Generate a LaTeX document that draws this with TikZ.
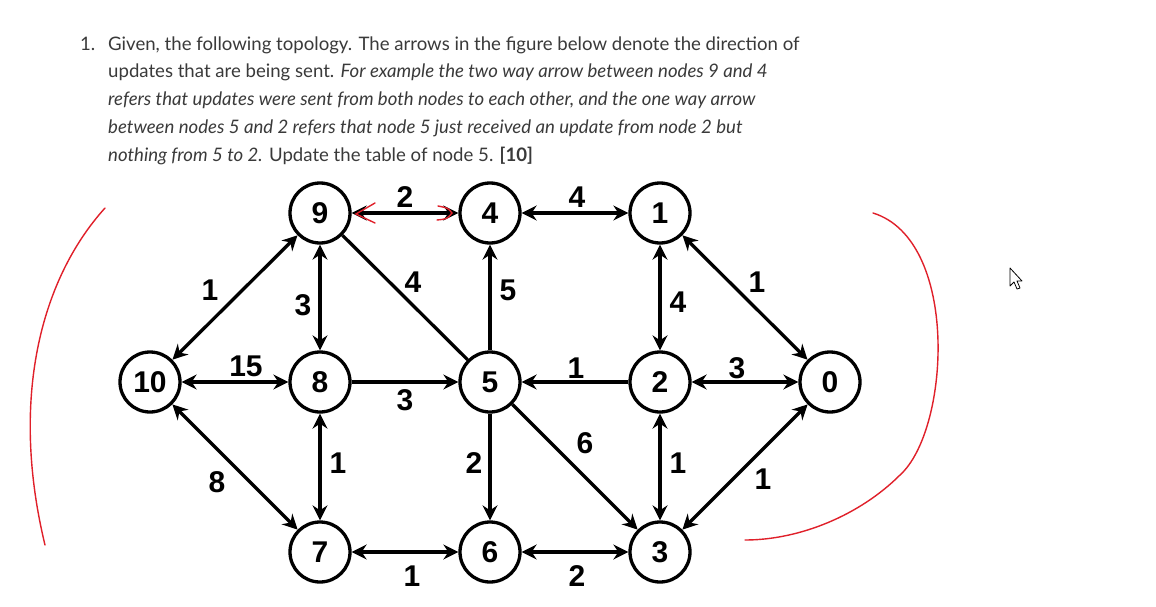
\documentclass[tikz,border=0pt]{standalone}
\usepackage{fontspec}
\setmainfont{Lato}
\newfontfamily\arialb{Liberation Sans}
\usetikzlibrary{arrows.meta}
\definecolor{txt}{HTML}{3A3A3A}
\definecolor{pen}{HTML}{E0202A}
\begin{document}
\begin{tikzpicture}[x=1pt,y=-1pt,
  nd/.style={circle,draw,line width=3.3pt,minimum size=60pt,inner sep=0pt,font=\arialb\bfseries\fontsize{30}{30}\selectfont},
  ed/.style={line width=3.3pt,{Stealth[length=15pt,width=15pt,inset=5pt]}-{Stealth[length=15pt,width=15pt,inset=5pt]}},
  one/.style={line width=3.3pt,-{Stealth[length=15pt,width=15pt,inset=5pt]}},
  pl/.style={line width=3.3pt},
  lb/.style={font=\arialb\bfseries\fontsize{30}{30}\selectfont,inner sep=0pt},
  tl/.style={anchor=base west,inner sep=0pt,text=txt,font=\fontsize{18.6}{20}\selectfont},
  red/.style={draw=pen,line width=1.4pt,line cap=round}]
\useasboundingbox (0,0) rectangle (1156,607);
\fill[white] (0,0) rectangle (1156,607);
% text
\node[tl] (n1) at (80,51) {1.};
\node[tl] (l1) at (108,51) {Given, the following topology. The arrows in the figure below denote the direction of};
\node[tl] (l2) at (108,78) {updates that are being sent. \textit{For example the two way arrow between nodes 9 and 4}};
\node[tl] (l3) at (108,106) {\textit{refers that updates were sent from both nodes to each other, and the one way arrow}};
\node[tl] (l4) at (108,133) {\textit{between nodes 5 and 2 refers that node 5 just received an update from node 2 but}};
\node[tl] (l5) at (108,161) {\textit{nothing from 5 to 2.} Update the table of node 5. \textbf{[10]}};
% nodes
\node[nd] (9) at (320,213) {9};
\node[nd] (4) at (490,213) {4};
\node[nd] (1) at (660,213) {1};
\node[nd] (10) at (150,382) {10};
\node[nd] (8) at (320,382) {8};
\node[nd] (5) at (490,382) {5};
\node[nd] (2) at (660,382) {2};
\node[nd] (0) at (830,382) {0};
\node[nd] (7) at (320,552) {7};
\node[nd] (6) at (490,552) {6};
\node[nd] (3) at (660,552) {3};
% edges
\draw[ed] (9) -- (4);
\draw[ed] (4) -- (1);
\draw[ed] (10) -- (9);
\draw[ed] (9) -- (8);
\draw[pl] (9) -- (5);
\draw[one] (5) -- (4);
\draw[ed] (1) -- (2);
\draw[ed] (1) -- (0);
\draw[ed] (10) -- (8);
\draw[one] (8) -- (5);
\draw[one] (2) -- (5);
\draw[ed] (2) -- (0);
\draw[ed] (10) -- (7);
\draw[ed] (8) -- (7);
\draw[one] (5) -- (6);
\draw[one] (5) -- (3);
\draw[ed] (2) -- (3);
\draw[ed] (0) -- (3);
\draw[ed] (7) -- (6);
\draw[ed] (6) -- (3);
% labels
\node[lb] (a1) at (405,197) {2};
\node[lb] (a2) at (577,197) {4};
\node[lb] (a3) at (210,290) {1};
\node[lb] (a4) at (303,305) {3};
\node[lb] (a5) at (413,282) {4};
\node[lb] (a6) at (508,290) {5};
\node[lb] (a7) at (678,302) {4};
\node[lb] (a8) at (757,282) {1};
\node[lb] (a9) at (246,366) {15};
\node[lb] (a10) at (405,400) {3};
\node[lb] (a11) at (576,368) {1};
\node[lb] (a12) at (737,368) {3};
\node[lb] (a13) at (217,482) {8};
\node[lb] (a14) at (338,463) {1};
\node[lb] (a15) at (474,463) {2};
\node[lb] (a16) at (585,443) {6};
\node[lb] (a17) at (678,463) {1};
\node[lb] (a18) at (763,479) {1};
\node[lb] (a19) at (412,576) {1};
\node[lb] (a20) at (577,576) {2};
% red pen marks
\draw[red] (375,203) -- (356,214) -- (375,223);
\draw[red] (438,206) .. controls (448,208) .. (452,213) .. controls (447,219) .. (437,220);
\draw[red] (105,208) .. controls (40,280) and (10,400) .. (45,545);
\draw[red] (873,213) .. controls (960,240) and (950,430) .. (900,475) .. controls (860,515) and (800,540) .. (745,540);
% cursor
\draw[line width=0.8pt,fill=white,line join=round] (1010,268) -- (1010,286) -- (1014,282) -- (1017,289) -- (1020,288) -- (1017,281) -- (1022,281) -- cycle;
\end{tikzpicture}
\end{document}
